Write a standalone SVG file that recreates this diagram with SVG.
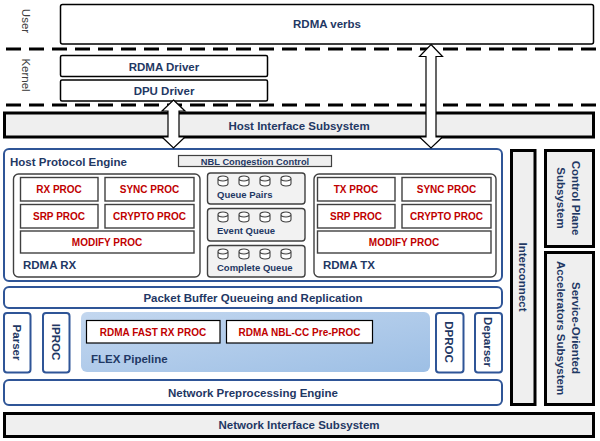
<svg xmlns="http://www.w3.org/2000/svg" width="600" height="441" viewBox="0 0 600 441">
<style>
text{font-family:"Liberation Sans",Arial,sans-serif;font-weight:bold;fill:#1f3864;font-size:11.5px}
.c{text-anchor:middle}
.red{fill:#c00000;font-size:10px}
.q{font-size:9.5px}
.nbl{font-size:9.3px}
.lab{font-weight:normal;fill:#404040;font-size:11.5px}
.blue{fill:#fff;stroke:#2f5597;stroke-width:2}
.thick{fill:#efefef;stroke:#000;stroke-width:3}
.plain{fill:#fff;stroke:#000;stroke-width:1.5}
.grp{fill:#fff;stroke:#404040;stroke-width:1.4}
.proc{fill:#fff;stroke:#404040;stroke-width:1.4}
.qb{fill:#f2f2f2;stroke:#404040;stroke-width:1.4}
.cyl{fill:#fff;stroke:#404040;stroke-width:1.1}
.dash{stroke:#000;stroke-width:3;stroke-dasharray:15 8;fill:none}
.arrow{fill:#fff;stroke:#000;stroke-width:1.2}
</style>
<defs>
<linearGradient id="flex" x1="0" y1="0" x2="1" y2="1">
<stop offset="0" stop-color="#c3d7ef"/>
<stop offset="1" stop-color="#9dbfe5"/>
</linearGradient>
<g id="cy"><path class="cyl" d="M0,2.5 A5,2.5 0 0 1 10,2.5 V7.5 A5,2.5 0 0 1 0,7.5 Z M0,2.5 A5,2.5 0 0 0 10,2.5"/></g>
<g id="cyls"><use href="#cy" x="0"/><use href="#cy" x="21"/><use href="#cy" x="42"/><use href="#cy" x="63"/></g>
</defs>

<rect width="600" height="441" fill="#fff"/>

<g id="layers">
<line class="dash" x1="6" y1="49" x2="598" y2="49"/>
<line class="dash" x1="6" y1="105" x2="598" y2="105"/>
<text class="lab c" transform="translate(26,21) rotate(90)" y="4.5">User</text>
<text class="lab c" transform="translate(26,75) rotate(90)" y="4.5">Kernel</text>
</g>

<g id="rdma-verbs">
<rect class="plain" x="60.5" y="4.5" width="533" height="39.5" rx="2"/>
<text class="c" x="327" y="28">RDMA verbs</text>
</g>
<g id="rdma-driver">
<rect class="plain" x="60.5" y="55.5" width="207" height="21" rx="1.5"/>
<text class="c" x="164" y="70.5">RDMA Driver</text>
</g>
<g id="dpu-driver">
<rect class="plain" x="60.5" y="80" width="207" height="21" rx="1.5"/>
<text class="c" x="164" y="95">DPU Driver</text>
</g>

<g id="host-interface">
<rect class="thick" x="4.5" y="113" width="589" height="24"/>
<text class="c" x="299" y="130">Host Interface Subsystem</text>
</g>

<g id="host-protocol-engine">
<rect class="blue" x="4" y="149" width="498" height="132" rx="5"/>
<text x="10" y="166">Host Protocol Engine</text>
</g>

<g id="nbl-cc">
<rect x="178.5" y="155.5" width="153" height="11" fill="#efefef" stroke="#404040" stroke-width="1.2"/>
<text class="c nbl" x="255" y="164.5">NBL Congestion Control</text>
</g>

<g id="rdma-rx">
<rect class="grp" x="13.5" y="174" width="186.5" height="103" rx="5"/>
<text x="23" y="269">RDMA RX</text>
<rect class="proc" x="20.5" y="177.5" width="77.5" height="23.5"/>
<text class="c red" x="59" y="193">RX PROC</text>
<rect class="proc" x="105" y="177.5" width="89" height="23.5"/>
<text class="c red" x="149.5" y="193">SYNC PROC</text>
<rect class="proc" x="20.5" y="204.5" width="77.5" height="23.5"/>
<text class="c red" x="59" y="220">SRP PROC</text>
<rect class="proc" x="105" y="204.5" width="89" height="23.5"/>
<text class="c red" x="149.5" y="220">CRYPTO PROC</text>
<rect class="proc" x="20.5" y="231" width="173.5" height="22"/>
<text class="c red" x="107" y="246">MODIFY PROC</text>
</g>

<g id="queue-pairs">
<rect class="qb" x="207.5" y="173" width="97.5" height="31" rx="3"/>
<use href="#cyls" x="218" y="176"/>
<text class="q" x="217" y="198">Queue Pairs</text>
</g>
<g id="event-queue">
<rect class="qb" x="207.5" y="208.5" width="97.5" height="32.5" rx="3"/>
<use href="#cyls" x="218" y="212"/>
<text class="q" x="217" y="234">Event Queue</text>
</g>
<g id="complete-queue">
<rect class="qb" x="207.5" y="245.5" width="97.5" height="31.5" rx="3"/>
<use href="#cyls" x="218" y="249"/>
<text class="q" x="217" y="271">Complete Queue</text>
</g>

<g id="rdma-tx">
<rect class="grp" x="314" y="174" width="182" height="103" rx="5"/>
<text x="323" y="269">RDMA TX</text>
<rect class="proc" x="317.5" y="177.5" width="77.5" height="23.5"/>
<text class="c red" x="356" y="193">TX PROC</text>
<rect class="proc" x="402" y="177.5" width="89" height="23.5"/>
<text class="c red" x="446.5" y="193">SYNC PROC</text>
<rect class="proc" x="317.5" y="204.5" width="77.5" height="23.5"/>
<text class="c red" x="356" y="220">SRP PROC</text>
<rect class="proc" x="402" y="204.5" width="89" height="23.5"/>
<text class="c red" x="446.5" y="220">CRYPTO PROC</text>
<rect class="proc" x="317.5" y="231" width="173.5" height="22"/>
<text class="c red" x="404" y="246">MODIFY PROC</text>
</g>

<g id="interconnect">
<rect class="thick" x="511.5" y="150.5" width="23.5" height="254"/>
<text class="c" transform="translate(523,277) rotate(90)" y="4.5">Interconnect</text>
</g>

<g id="control-plane">
<rect class="thick" x="545.5" y="150.5" width="48" height="96"/>
<text class="c" transform="translate(569,198) rotate(90)"><tspan x="0" y="-3">Control Plane</tspan><tspan x="0" y="12">Subsystem</tspan></text>
</g>

<g id="service-accelerators">
<rect class="thick" x="545.5" y="252.5" width="48" height="152"/>
<text class="c" transform="translate(569,328) rotate(90)"><tspan x="0" y="-3">Service-Oriented</tspan><tspan x="0" y="12">Accelerators Subsystem</tspan></text>
</g>

<g id="packet-buffer">
<rect class="blue" x="4" y="287" width="498" height="21" rx="5"/>
<text class="c" x="253" y="302">Packet Buffer Queueing and Replication</text>
</g>

<g id="parser">
<rect class="blue" x="4" y="313" width="26.5" height="59.5" rx="3"/>
<text class="c" transform="translate(17,342.5) rotate(90)" y="4.5">Parser</text>
</g>
<g id="iproc">
<rect class="blue" x="43" y="313" width="26.5" height="59.5" rx="3"/>
<text class="c" transform="translate(56,342) rotate(90)" y="4.5">IPROC</text>
</g>

<g id="flex-pipeline">
<rect x="81" y="312" width="349" height="60" rx="6" fill="url(#flex)"/>
<text x="91" y="363">FLEX Pipeline</text>
<rect x="86.5" y="320.5" width="133.5" height="22.5" fill="#fff" stroke="#000" stroke-width="1.2"/>
<text class="c red" x="153" y="336">RDMA FAST RX PROC</text>
<rect x="226.5" y="320.5" width="146" height="22.5" fill="#fff" stroke="#000" stroke-width="1.2"/>
<text class="c red" x="299.5" y="336">RDMA NBL-CC Pre-PROC</text>
</g>

<g id="dproc">
<rect class="blue" x="436" y="313" width="27.5" height="59.5" rx="3"/>
<text class="c" transform="translate(449.5,342) rotate(90)" y="4.5">DPROC</text>
</g>
<g id="deparser">
<rect class="blue" x="475" y="313" width="27" height="59.5" rx="3"/>
<text class="c" transform="translate(488.5,342) rotate(90)" y="4.5">Deparser</text>
</g>

<g id="network-preprocessing">
<rect class="blue" x="4" y="380" width="498" height="25" rx="5"/>
<text class="c" x="253" y="396.5">Network Preprocessing Engine</text>
</g>

<g id="network-interface">
<rect class="thick" x="4.5" y="413.5" width="589" height="23"/>
<text class="c" x="299" y="429">Network Interface Subsystem</text>
</g>

<g id="connectors">
<path class="arrow" d="M173.5,100 L185,111 L179,111 L179,137 L185,137 L173.5,148 L162,137 L168,137 L168,111 L162,111 Z"/>
<path class="arrow" d="M431,44.5 L442.5,56.5 L436,56.5 L436,137 L442.5,137 L431,148 L419.5,137 L426,137 L426,56.5 L419.5,56.5 Z"/>
</g>
</svg>
